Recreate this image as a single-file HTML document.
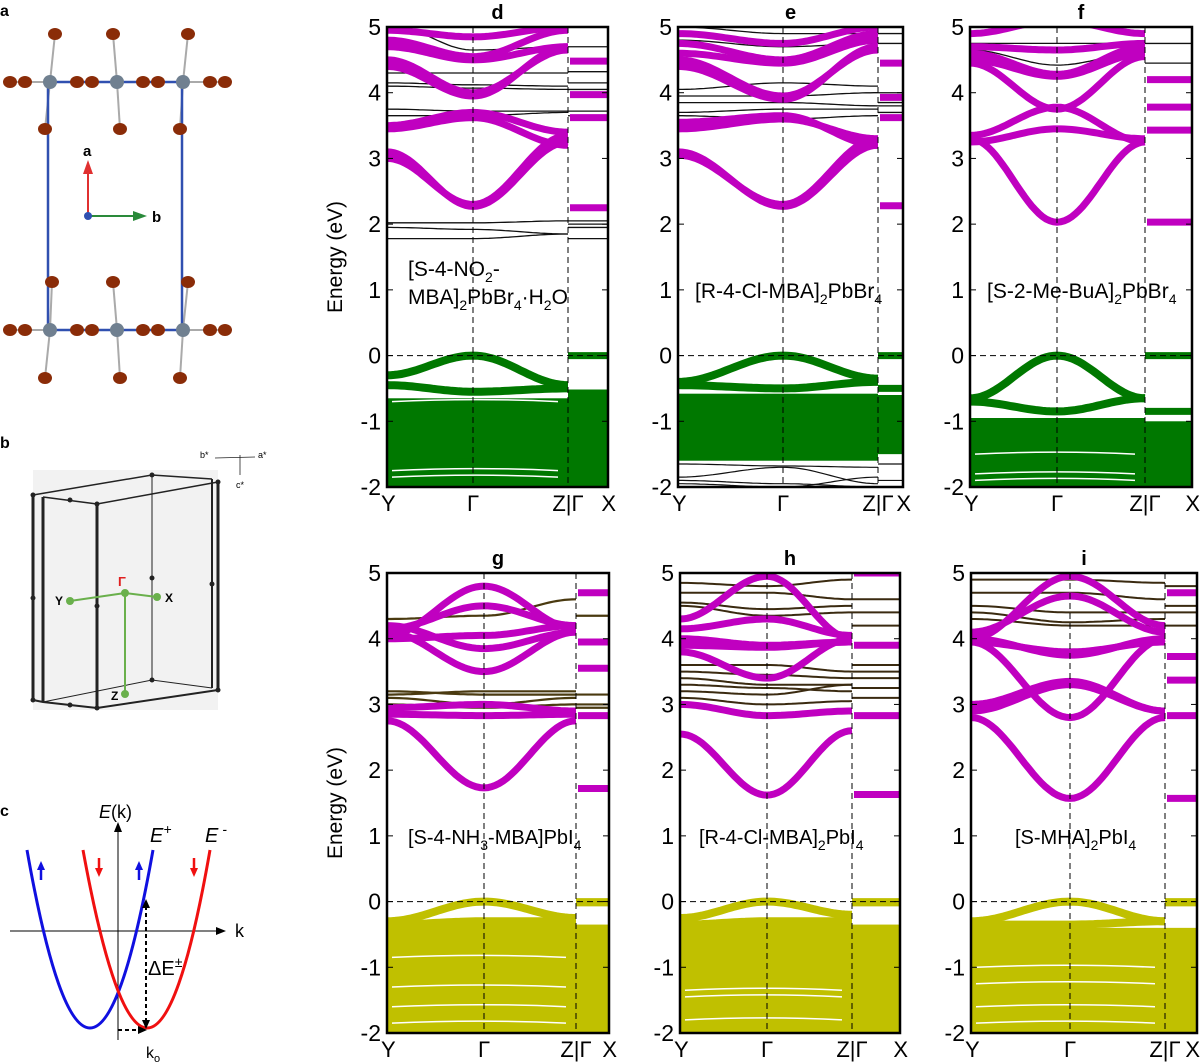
<!DOCTYPE html>
<html><head><meta charset="utf-8"><style>
html,body{margin:0;padding:0;background:#fff;}
svg{display:block;font-family:"Liberation Sans",sans-serif;}
</style></head><body>
<svg id="fig" width="1200" height="1064" viewBox="0 0 1200 1064" xmlns="http://www.w3.org/2000/svg">
<!-- Panel a -->
<g>
<text x="0" y="16" font-size="16" font-weight="bold">a</text>
<g stroke="#aaa" stroke-width="2">
<line x1="50" y1="82" x2="55" y2="34"/><line x1="117" y1="82" x2="113" y2="34"/><line x1="183" y1="82" x2="188" y2="34"/>
<line x1="50" y1="82" x2="45" y2="129"/><line x1="117" y1="82" x2="120" y2="129"/><line x1="183" y1="82" x2="180" y2="129"/>
<line x1="50" y1="330" x2="52" y2="282"/><line x1="117" y1="330" x2="113" y2="282"/><line x1="183" y1="330" x2="188" y2="282"/>
<line x1="50" y1="330" x2="45" y2="378"/><line x1="117" y1="330" x2="120" y2="378"/><line x1="183" y1="330" x2="180" y2="378"/>
<line x1="5" y1="82" x2="230" y2="82"/><line x1="5" y1="330" x2="230" y2="330"/>
</g>
<rect x="48" y="82" width="134" height="248" fill="none" stroke="#3050b0" stroke-width="2.5"/>
<g fill="#8a2c08">
<ellipse cx="10" cy="82" rx="7" ry="6"/><ellipse cx="25" cy="82" rx="7" ry="6"/><ellipse cx="77" cy="82" rx="7" ry="6"/><ellipse cx="92" cy="82" rx="7" ry="6"/><ellipse cx="143" cy="82" rx="7" ry="6"/><ellipse cx="158" cy="82" rx="7" ry="6"/><ellipse cx="210" cy="82" rx="7" ry="6"/><ellipse cx="225" cy="82" rx="7" ry="6"/>
<ellipse cx="10" cy="330" rx="7" ry="6"/><ellipse cx="25" cy="330" rx="7" ry="6"/><ellipse cx="77" cy="330" rx="7" ry="6"/><ellipse cx="92" cy="330" rx="7" ry="6"/><ellipse cx="143" cy="330" rx="7" ry="6"/><ellipse cx="158" cy="330" rx="7" ry="6"/><ellipse cx="210" cy="330" rx="7" ry="6"/><ellipse cx="225" cy="330" rx="7" ry="6"/>
<ellipse cx="55" cy="34" rx="7" ry="6"/><ellipse cx="113" cy="34" rx="7" ry="6"/><ellipse cx="188" cy="34" rx="7" ry="6"/>
<ellipse cx="45" cy="129" rx="7" ry="6"/><ellipse cx="120" cy="129" rx="7" ry="6"/><ellipse cx="180" cy="129" rx="7" ry="6"/>
<ellipse cx="52" cy="282" rx="7" ry="6"/><ellipse cx="113" cy="282" rx="7" ry="6"/><ellipse cx="188" cy="282" rx="7" ry="6"/>
<ellipse cx="45" cy="378" rx="7" ry="6"/><ellipse cx="120" cy="378" rx="7" ry="6"/><ellipse cx="180" cy="378" rx="7" ry="6"/>
</g>
<g fill="#708090"><circle cx="50" cy="82" r="7"/><circle cx="117" cy="82" r="7"/><circle cx="183" cy="82" r="7"/><circle cx="50" cy="330" r="7"/><circle cx="117" cy="330" r="7"/><circle cx="183" cy="330" r="7"/></g>
<line x1="88" y1="216" x2="88" y2="172" stroke="#e03030" stroke-width="2"/><polygon points="83,174 93,174 88,160" fill="#e03030"/>
<line x1="88" y1="216" x2="135" y2="216" stroke="#2a8a3a" stroke-width="2"/><polygon points="133,211 133,221 147,216" fill="#2a8a3a"/>
<circle cx="88" cy="216" r="4" fill="#3050b0"/>
<text x="83" y="156" font-size="15" font-weight="bold">a</text>
<text x="152" y="222" font-size="15" font-weight="bold">b</text>
</g>
<!-- Panel b -->
<g>
<text x="0" y="448" font-size="16" font-weight="bold">b</text>
<rect x="33" y="470" width="185" height="240" fill="#f2f2f2"/>
<g stroke="#222" fill="none">
<polyline points="33,495 152,475 212,479" stroke-width="1.5"/>
<polyline points="43,497 97,504 218,482" stroke-width="1.5"/>
<line x1="33" y1="495" x2="33" y2="700" stroke-width="3"/><line x1="43" y1="497" x2="43" y2="702" stroke-width="3"/>
<line x1="97" y1="504" x2="97" y2="708" stroke-width="3"/>
<line x1="152" y1="475" x2="152" y2="680" stroke-width="1"/>
<line x1="212" y1="479" x2="212" y2="688" stroke-width="2"/><line x1="218" y1="482" x2="218" y2="690" stroke-width="3"/>
<polyline points="33,700 43,702 97,708 218,690" stroke-width="2"/>
<polyline points="43,702 152,680 212,688" stroke-width="1"/>
<line x1="240" y1="455" x2="240" y2="475" stroke-width="0.8"/><line x1="215" y1="458" x2="255" y2="457" stroke-width="0.8"/>
</g>
<g fill="#222"><circle cx="33" cy="495" r="2.5"/><circle cx="97" cy="504" r="2.5"/><circle cx="70" cy="500" r="2.5"/><circle cx="152" cy="475" r="2.5"/><circle cx="218" cy="482" r="2.5"/><circle cx="33" cy="598" r="2.5"/><circle cx="97" cy="606" r="2.5"/><circle cx="152" cy="578" r="2.5"/><circle cx="212" cy="584" r="2.5"/><circle cx="33" cy="700" r="2.5"/><circle cx="97" cy="708" r="2.5"/><circle cx="70" cy="705" r="2.5"/><circle cx="152" cy="680" r="2.5"/><circle cx="218" cy="690" r="2.5"/></g>
<text x="200" y="458" font-size="9">b*</text><text x="258" y="458" font-size="9">a*</text><text x="236" y="488" font-size="9">c*</text>
<g stroke="#6ab04c" stroke-width="2"><line x1="70" y1="601" x2="125" y2="593"/><line x1="125" y1="593" x2="157" y2="597"/><line x1="125" y1="593" x2="125" y2="694"/></g>
<g fill="#6ab04c"><circle cx="70" cy="601" r="4"/><circle cx="125" cy="593" r="4"/><circle cx="157" cy="597" r="4"/><circle cx="125" cy="694" r="4"/></g>
<text x="55" y="605" font-size="12" font-weight="bold">Y</text>
<text x="165" y="602" font-size="12" font-weight="bold">X</text>
<text x="111" y="700" font-size="12" font-weight="bold">Z</text>
<text x="118" y="586" font-size="13" font-weight="bold" fill="#e02020">Γ</text>
</g>
<!-- Panel c -->
<g>
<text x="0" y="816" font-size="16" font-weight="bold">c</text>
<line x1="10" y1="931" x2="218" y2="931" stroke="#000" stroke-width="1"/><polygon points="216,927 216,935 226,931" fill="#000"/>
<line x1="118" y1="1040" x2="118" y2="830" stroke="#000" stroke-width="1"/><polygon points="114,832 122,832 118,822" fill="#000"/>
<path d="M27,850 Q90,1206 153,850" fill="none" stroke="#1010e0" stroke-width="3"/>
<path d="M83,850 Q148,1206 210,850" fill="none" stroke="#f01010" stroke-width="3"/>
<text x="99" y="818" font-size="18"><tspan font-style="italic">E</tspan>(k)</text>
<text x="150" y="842" font-size="20" font-style="italic">E<tspan font-size="14" dy="-8">+</tspan></text>
<text x="205" y="842" font-size="20" font-style="italic">E<tspan font-size="14" dy="-8"> -</tspan></text>
<text x="235" y="937" font-size="18">k</text>
<text x="148" y="975" font-size="20">ΔE<tspan font-size="14" dy="-8">±</tspan></text>
<text x="146" y="1058" font-size="16">k<tspan font-size="11" dy="4">o</tspan></text>
<g stroke="#1010e0" stroke-width="2.5"><line x1="41" y1="880" x2="41" y2="868"/><line x1="139" y1="880" x2="139" y2="868"/></g>
<polygon points="37,870 45,870 41,861" fill="#1010e0"/><polygon points="135,870 143,870 139,861" fill="#1010e0"/>
<g stroke="#f01010" stroke-width="2.5"><line x1="99" y1="858" x2="99" y2="870"/><line x1="194" y1="858" x2="194" y2="870"/></g>
<polygon points="95,868 103,868 99,877" fill="#f01010"/><polygon points="190,868 198,868 194,877" fill="#f01010"/>
<line x1="146" y1="906" x2="146" y2="1022" stroke="#000" stroke-width="2" stroke-dasharray="4,3"/>
<polygon points="142,908 150,908 146,899" fill="#000"/><polygon points="142,1020 150,1020 146,1029" fill="#000"/>
<line x1="118" y1="1030" x2="140" y2="1030" stroke="#000" stroke-width="2" stroke-dasharray="4,3"/><polygon points="138,1026 138,1034 147,1030" fill="#000"/>
</g>
<g id="plots"></g>
</svg>
<script>
// ---- data arrays: bands given as [E(Y), E(Γ), E(Z)], flat levels on Γ–X ----
const dMag = [[3.1,2.27,3.25],[3.0,2.3,3.35],[3.45,3.62,3.2],[3.5,3.7,3.4],[4.4,3.95,4.7],[4.5,4.0,4.65],[4.7,4.5,4.7],[4.8,4.55,4.95],[4.95,4.85,5.0]];
const dMagX = [2.25,3.62,3.97,4.48];
const dBlk = [[4.3,4.3,4.3],[4.15,4.12,4.1],[4.1,4.07,4.05],[3.75,3.72,3.72],[3.65,3.65,3.7],[2.02,2.02,2.05],[1.95,1.92,1.85],[1.78,1.78,1.85],[5.05,4.65,4.7]];
const dBlkX = [4.7,4.32,4.15,4.05,3.72,3.65,2.05,2.0,1.95,1.78];
const dVal = [[-0.3,0,-0.45],[-0.45,-0.55,-0.5]];
const dValX = [0,-0.57];
const dFill = [-0.65,-0.62];
const dGaps = [-1.75,-1.85,-0.7];
const dLowBlk = [];

const eMag = [[3.1,2.27,3.2],[3.05,2.3,3.3],[3.45,3.6,3.3],[3.55,3.65,3.2],[4.4,3.9,4.7],[4.5,3.95,4.65],[4.6,4.45,4.8],[4.75,4.5,4.9],[4.9,4.75,5.0]];
const eMagX = [2.28,3.62,3.93,4.45];
const eBlk = [[4.05,4.15,4.1],[3.95,3.95,4.0],[3.85,3.85,3.8],[3.7,3.75,3.75],[3.65,3.6,3.65],[5.0,4.9,4.9],[4.8,4.7,4.75]];
const eBlkX = [4.9,4.75,4.0,3.85,3.8,3.7];
const eVal = [[-0.4,0,-0.35],[-0.45,-0.5,-0.4]];
const eValX = [0,-0.5];
const eFill = [-0.58,-0.6];
const eFillBot = [-1.6,-1.5];
const eGaps = [];
const eLowBlk = [[-1.65,-1.68,-1.7],[-1.85,-1.7,-1.95],[-1.95,-2.0,-1.85],[-1.9,-1.95,-2.0]];
const eLowBlkX = [-1.65,-1.9];

const fMag = [[3.3,2.03,3.25],[3.25,3.45,3.3],[3.35,3.78,3.25],[4.45,3.75,4.55],[4.5,4.25,4.6],[4.6,4.28,4.7],[4.7,4.65,4.75],[4.9,5.1,4.9]];
const fMagX = [2.03,3.43,3.78,4.2];
const fBlk = [[4.75,4.75,4.75],[4.65,4.42,4.62]];
const fBlkX = [4.75,4.45];
const fVal = [[-0.65,0,-0.65],[-0.7,-0.85,-0.65]];
const fValX = [0,-0.85];
const fFill = [-0.95,-1.0];
const fGaps = [-1.5,-1.9,-1.8];

const gMag = [[2.75,1.73,2.75],[2.85,2.83,2.85],[2.95,3.0,2.9],[4.1,3.5,4.1],[4.2,3.85,4.1],[4.0,4.05,4.2],[4.05,4.8,4.15],[4.15,4.5,4.2]];
const gMagX = [1.72,2.83,3.55,3.95,4.7];
const gBlk = [[3.2,3.15,3.15],[3.1,3.0,3.1],[3.0,2.95,3.0],[3.15,3.2,3.2],[4.3,4.35,4.6]];
const gBlkX = [3.15,3.0,2.95,4.35];
const gVal = [[-0.3,0,-0.25],[-0.35,-0.3,-0.3]];
const gValX = [0,-0.02];
const gFill = [-0.32,-0.35];
const gGaps = [-0.85,-1.3,-1.6,-1.85];

const hMag = [[2.55,1.62,2.6],[3.0,2.83,2.9],[3.8,3.4,4.0],[3.9,3.87,3.95],[4.0,3.9,3.95],[4.15,4.3,4.05],[4.3,4.95,4.0]];
const hMagX = [1.63,2.83,3.9,5.0];
const hBlk = [[3.6,3.6,3.5],[3.5,3.45,3.4],[3.4,3.3,3.3],[3.3,3.25,3.2],[3.2,3.15,3.3],[3.1,3.0,3.05],[4.55,4.45,4.5],[4.5,4.35,4.4],[4.7,4.7,4.6],[4.85,4.8,4.9]];
const hBlkX = [3.6,3.5,3.4,3.25,3.1,4.6,4.4,4.2];
const hVal = [[-0.25,0,-0.2],[-0.35,-0.3,-0.3]];
const hValX = [0,-0.02];
const hFill = [-0.35,-0.35];
const hGaps = [-1.35,-1.45,-1.8];

const iMag = [[2.8,1.57,2.8],[2.9,3.3,2.9],[3.0,3.35,2.9],[3.95,2.8,4.0],[4.0,3.75,4.0],[3.95,3.8,3.95],[4.1,4.65,4.1],[4.0,4.95,4.2]];
const iMagX = [1.57,2.83,3.37,3.73,4.7];
const iBlk = [[4.5,4.4,4.4],[4.4,4.25,4.3],[4.3,4.2,4.2],[4.7,4.7,4.6],[4.9,4.9,4.85]];
const iBlkX = [4.4,4.2,4.5,4.8];
const iVal = [[-0.3,0,-0.3],[-0.35,-0.35,-0.3]];
const iValX = [0,-0.02];
const iFill = [-0.4,-0.4];
const iGaps = [-1.0,-1.25,-1.6,-1.85];

const yTicks = [5,4,3,2,1,0,-1,-2];
const kLabels = ["Y","Γ","Z|Γ","X"];

const NS = "http://www.w3.org/2000/svg";
const root = document.getElementById('plots');
function mk(tag, attrs, parent){ const el=document.createElementNS(NS,tag); for(const k in attrs) el.setAttribute(k,attrs[k]); parent.appendChild(el); return el; }

function drawPanel(P){
  const g = mk('g',{},root);
  
  
  const x0=P.x0, x1=P.x1, xG=P.xG, xZ=P.xZ, yTop=P.yTop, yBot=P.yBot;
  const ys = E => yTop + (5-E)*(yBot-yTop)/7;
  const xk = (seg,t) => seg===0 ? x0+(xG-x0)*t : xG+(xZ-xG)*t;
  const cid = 'clip'+P.id;
  const cp = mk('clipPath',{id:cid},g); mk('rect',{x:x0,y:yTop,width:x1-x0,height:yBot-yTop},cp);
  const c = mk('g',{'clip-path':'url(#'+cid+')'},g);
  const bandPath = b => { let d=''; for(let s=0;s<2;s++){ for(let i=0;i<=24;i++){ const t=i/24; const w=(1-Math.cos(Math.PI*t))/2; const E=b[s]+(b[s+1]-b[s])*w; d+=(d?'L':'M')+xk(s,t).toFixed(1)+','+ys(E).toFixed(1);} } return d; };
  const fillG = mk('g',{},c);
  
  
  const fb = P.fillBot || [-2.1,-2.1];
  mk('rect',{x:x0,y:ys(P.fill[0]),width:xZ-x0,height:ys(fb[0])-ys(P.fill[0]),fill:P.vcol},fillG);
  mk('rect',{x:xZ,y:ys(P.fill[1]),width:x1-xZ,height:ys(fb[1])-ys(P.fill[1]),fill:P.vcol},fillG);
  P.gaps.forEach(E=>{ const gl=mk('path',{d:'M'+(x0+5)+','+ys(E)+' Q'+((x0+xZ)/2)+','+(ys(E)-4)+' '+(xZ-10)+','+ys(E),stroke:'#fff','stroke-width':1.5,fill:'none'},fillG);
    
     });
  P.val.forEach(b=>{ const p=mk('path',{d:bandPath(b),stroke:P.vcol,'stroke-width':8,fill:'none'},c);
    
     });
  P.valX.forEach(E=>{ const l=mk('line',{x1:xZ,x2:x1,y1:ys(E),y2:ys(E),stroke:P.vcol,'stroke-width':7},c);
    
     });
  (P.lowBlk||[]).forEach(b=>{ const p=mk('path',{d:bandPath(b),stroke:'#111','stroke-width':1.2,fill:'none'},c);
    
     });
  (P.lowBlkX||[]).forEach(E=>{ const l=mk('line',{x1:xZ,x2:x1,y1:ys(E),y2:ys(E),stroke:'#111','stroke-width':1.2},c);
    
     });
  P.blk.forEach(b=>{ const p=mk('path',{d:bandPath(b),stroke:P.bcol,'stroke-width':P.bw,fill:'none'},c);
    
     });
  P.blkX.forEach(E=>{ const l=mk('line',{x1:xZ,x2:x1,y1:ys(E),y2:ys(E),stroke:P.bcol,'stroke-width':P.bw},c);
    
     });
  P.mag.forEach(b=>{ const p=mk('path',{d:bandPath(b),stroke:'#c000c0','stroke-width':7,fill:'none'},c);
    
     });
  P.magX.forEach(E=>{ const l=mk('line',{x1:xZ+2,x2:x1,y1:ys(E),y2:ys(E),stroke:'#c000c0','stroke-width':7},c);
    
     });
  [xG,xZ].forEach(x=>{ const l=mk('line',{x1:x,x2:x,y1:yTop,y2:yBot,stroke:'#000','stroke-width':1,'stroke-dasharray':'6,4'},g);
    
     });
  const fl=mk('line',{x1:x0,x2:x1,y1:ys(0),y2:ys(0),stroke:'#000','stroke-width':1,'stroke-dasharray':'6,4'},g);
  
  
  const fr=mk('rect',{x:x0,y:yTop,width:x1-x0,height:yBot-yTop,fill:'none',stroke:'#000','stroke-width':2.5},g);
  
  
  yTicks.forEach(v=>{ const y=ys(v);
    mk('line',{x1:x0,x2:x0+6,y1:y,y2:y,stroke:'#000','stroke-width':1},g);
    mk('line',{x1:x1-6,x2:x1,y1:y,y2:y,stroke:'#000','stroke-width':1},g);
    const t=mk('text',{x:x0-6,y:y+8,'font-size':23,'text-anchor':'end'},g); t.textContent=v;
    
     });
  const kx=[x0,xG,xZ,x1];
  kLabels.forEach((s,i)=>{ const t=mk('text',{x:kx[i],y:yBot+24,'font-size':22,'text-anchor':i===0?'start':(i===3?'end':'middle')},g); t.textContent=s;
    if(i===0) t.setAttribute('x',x0-6);
    if(i===3) t.setAttribute('x',Math.min(x1+8,1200));
    
     });
  const ti=mk('text',{x:(x0+x1)/2,y:yTop-8,'font-size':20,'font-weight':'bold','text-anchor':'middle'},g); ti.textContent=P.id;
  
  
  if(P.ylabel){ const t=mk('text',{x:0,y:0,'font-size':21,'text-anchor':'middle',transform:'translate('+(x0-45)+','+ys(1.5)+') rotate(-90)'},g); t.textContent='Energy (eV)';
    
     }
  const lab=mk('g',{},g);
  
  
  lab.innerHTML=P.label;
}

const S='<tspan font-size="14" dy="6">', E='</tspan><tspan dy="-6">';
drawPanel({id:'d',x0:387,x1:608,xG:473,xZ:568,yTop:27,yBot:487,mag:dMag,magX:dMagX,blk:dBlk,blkX:dBlkX,bcol:'#111',bw:1.3,val:dVal,valX:dValX,fill:dFill,gaps:dGaps,vcol:'#007800',ylabel:true,
 label:'<text x="408" y="276" font-size="21">[S-4-NO'+S+'2'+E+'-</tspan></text><text x="408" y="304" font-size="21">MBA]'+S+'2'+E+'PbBr'+S+'4'+E+'·H'+S+'2'+E+'O</tspan></text>'});
drawPanel({id:'e',x0:678,x1:903,xG:783,xZ:878,yTop:27,yBot:487,mag:eMag,magX:eMagX,blk:eBlk,blkX:eBlkX,bcol:'#111',bw:1.3,val:eVal,valX:eValX,fill:eFill,fillBot:eFillBot,gaps:eGaps,lowBlk:eLowBlk,lowBlkX:eLowBlkX,vcol:'#007800',
 label:'<text x="695" y="298" font-size="21">[R-4-Cl-MBA]'+S+'2'+E+'PbBr'+S+'4'+E+'</tspan></text>'});
drawPanel({id:'f',x0:970,x1:1192,xG:1057,xZ:1145,yTop:27,yBot:487,mag:fMag,magX:fMagX,blk:fBlk,blkX:fBlkX,bcol:'#111',bw:1.3,val:fVal,valX:fValX,fill:fFill,gaps:fGaps,vcol:'#007800',
 label:'<text x="987" y="298" font-size="21">[S-2-Me-BuA]'+S+'2'+E+'PbBr'+S+'4'+E+'</tspan></text>'});
drawPanel({id:'g',x0:387,x1:609,xG:484,xZ:576,yTop:573,yBot:1033,mag:gMag,magX:gMagX,blk:gBlk,blkX:gBlkX,bcol:'#4a3a10',bw:2.2,val:gVal,valX:gValX,fill:gFill,gaps:gGaps,vcol:'#c0c000',ylabel:true,
 label:'<text x="408" y="844" font-size="20">[S-4-NH'+S+'3'+E+'-MBA]PbI'+S+'4'+E+'</tspan></text>'});
drawPanel({id:'h',x0:680,x1:900,xG:767,xZ:852,yTop:573,yBot:1033,mag:hMag,magX:hMagX,blk:hBlk,blkX:hBlkX,bcol:'#3a2a10',bw:2,val:hVal,valX:hValX,fill:hFill,gaps:hGaps,vcol:'#c0c000',
 label:'<text x="699" y="844" font-size="20">[R-4-Cl-MBA]'+S+'2'+E+'PbI'+S+'4'+E+'</tspan></text>'});
drawPanel({id:'i',x0:971,x1:1197,xG:1070,xZ:1165,yTop:573,yBot:1033,mag:iMag,magX:iMagX,blk:iBlk,blkX:iBlkX,bcol:'#3a2a10',bw:2,val:iVal,valX:iValX,fill:iFill,gaps:iGaps,vcol:'#c0c000',
 label:'<text x="1015" y="844" font-size="20">[S-MHA]'+S+'2'+E+'PbI'+S+'4'+E+'</tspan></text>'});
</script>
</body></html>
